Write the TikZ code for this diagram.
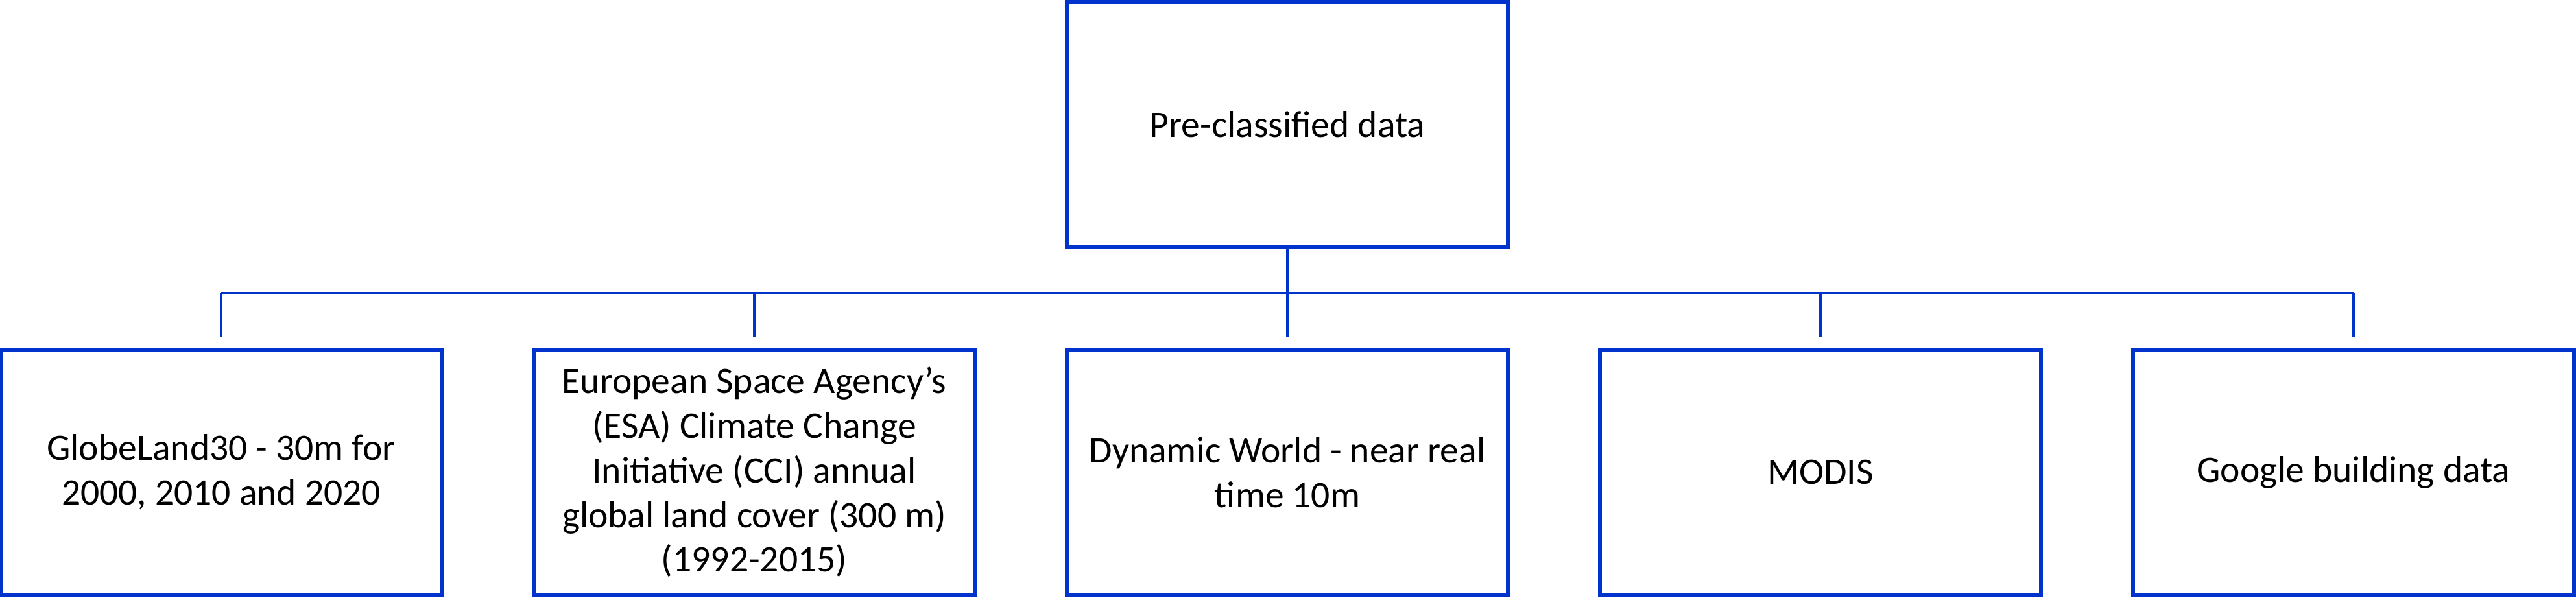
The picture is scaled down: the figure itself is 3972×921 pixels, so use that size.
\documentclass[tikz,border=0pt]{standalone}
\usepackage{fontspec}
\setmainfont{Carlito}
\definecolor{bblue}{HTML}{0033CC}
\begin{document}
\begin{tikzpicture}[x=0.25pt,y=-0.25pt,
  box/.style={draw=bblue,line width=1.4pt,minimum width=170pt,minimum height=94.5pt,inner sep=0pt,align=center,
    font=\fontsize{14.4pt}{17.2pt}\selectfont},
  conn/.style={draw=bblue,line width=1.2pt}]
\useasboundingbox (0,0) rectangle (3972,921);
\node[box] (top) at (1985,192) {Pre-classified data};
\node[box] (b1) at (341,728) {GlobeLand30 - 30m for\\2000, 2010 and 2020};
\node[box] (b2) at (1163,728) {European Space Agency’s\\(ESA) Climate Change\\Initiative (CCI) annual\\global land cover (300 m)\\(1992-2015)};
\node[box] (b3) at (1985,728) {Dynamic World - near real\\time 10m};
\node[box] (b4) at (2807,728) {MODIS};
\node[box] (b5) at (3629,728) {Google building data};
\foreach \n in {b1,b2,b3,b4,b5}{\coordinate (\n t) at ([yshift=16*0.25pt]\n.north);}
\coordinate (busL) at (341,452);
\coordinate (busR) at (3629,452);
\draw[conn] (top.south) -- (top.south |- busL);
\draw[conn] (busL) -- (busR);
\foreach \n in {b1,b2,b3,b4,b5}{\draw[conn] (\n t |- busL) -- (\n t);}
\end{tikzpicture}
\end{document}
